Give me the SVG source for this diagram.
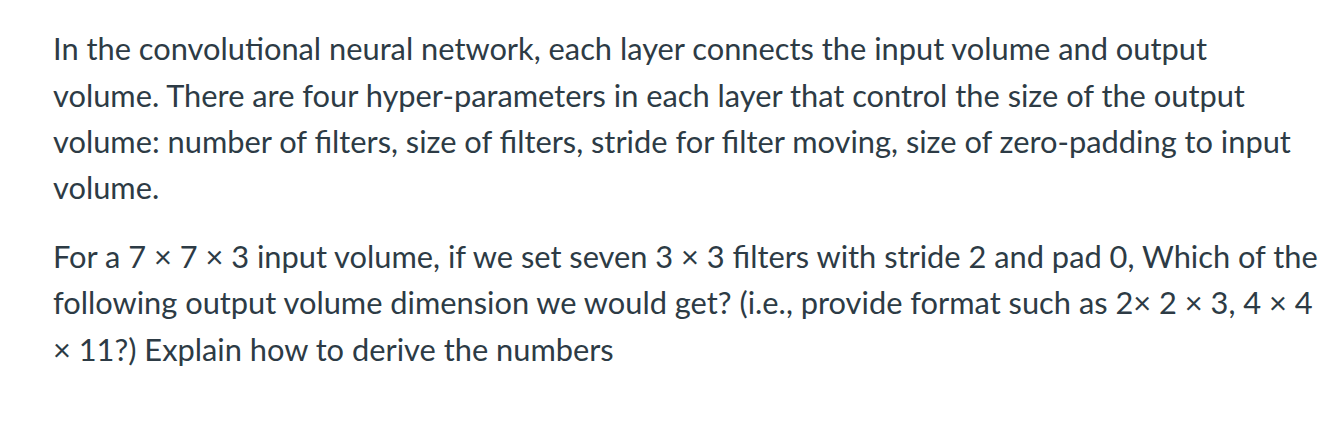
<svg xmlns="http://www.w3.org/2000/svg" width="1342" height="436" viewBox="0 0 1342 436">
<style>text{font-family:Lato,"Liberation Sans",sans-serif;font-size:30.8px;fill:#2d3b45}</style>
<rect width="1342" height="436" fill="#fff"/>
<text x="53" y="60">In the convolutional neural network, each layer connects the input volume and output</text>
<text x="53" y="107">volume. There are four hyper-parameters in each layer that control the size of the output</text>
<text x="53" y="153">volume: number of filters, size of filters, stride for filter moving, size of zero-padding to input</text>
<text x="53" y="199">volume.</text>
<text x="53" y="268">For a 7 × 7 × 3 input volume, if we set seven 3 × 3 filters with stride 2 and pad 0, Which of the</text>
<text x="53" y="314">following output volume dimension we would get? (i.e., provide format such as 2× 2 × 3, 4 × 4</text>
<text x="53" y="361">× 11?) Explain how to derive the numbers</text>
</svg>
